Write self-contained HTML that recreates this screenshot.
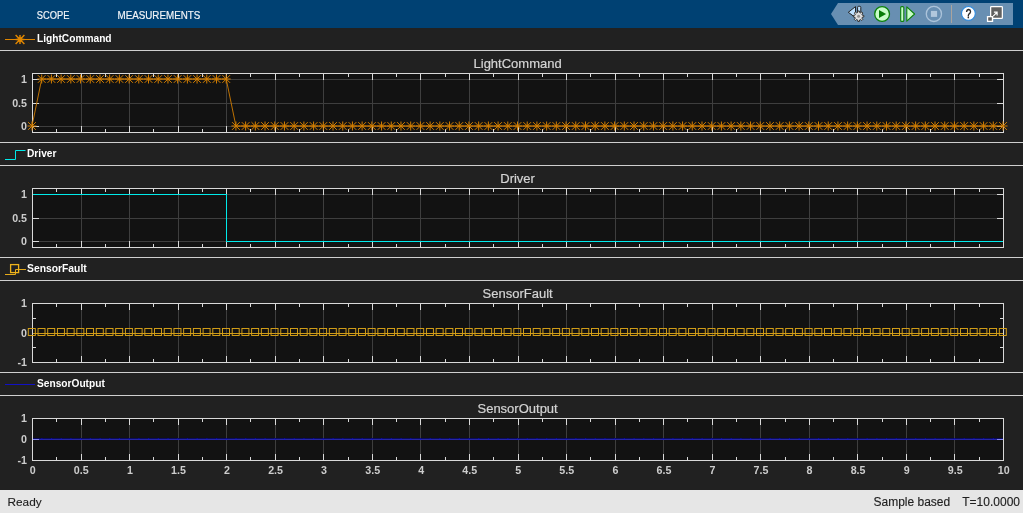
<!DOCTYPE html>
<html><head><meta charset="utf-8"><title>Scope</title>
<style>
html,body{margin:0;padding:0;background:#212121;overflow:hidden}
body{width:1023px;height:513px;position:relative;font-family:"Liberation Sans",sans-serif}
svg{position:absolute;left:0;top:0;display:block;will-change:transform}
text{font-family:"Liberation Sans",sans-serif}
.tk{font-size:10.7px;font-weight:bold;fill:#cdcdcd;stroke:#cdcdcd;stroke-width:0px}
.tt{font-size:13px;fill:#d4d4d4;stroke:#d4d4d4;stroke-width:0.2px}
.lg{font-size:10.18px;font-weight:bold;fill:#fff}
.tab{font-size:11.6px;fill:#f2f5f8;stroke:#f2f5f8;stroke-width:0.2px}
.st{font-size:12px;fill:#202020;stroke:#202020;stroke-width:0.12px}
</style></head><body>
<svg width="1023" height="513" viewBox="0 0 1023 513">

<rect x="0" y="0" width="1023" height="513" fill="#212121"/>
<rect x="0" y="0" width="1023" height="28" fill="#004173"/>
<rect x="0" y="490" width="1023" height="23" fill="#e6e6e6"/>
<rect x="0" y="50" width="1023" height="1" fill="#cfcfcf"/>
<rect x="0" y="142" width="1023" height="1" fill="#cfcfcf"/>
<rect x="0" y="165" width="1023" height="1" fill="#cfcfcf"/>
<rect x="0" y="257" width="1023" height="1" fill="#cfcfcf"/>
<rect x="0" y="280" width="1023" height="1" fill="#cfcfcf"/>
<rect x="0" y="372" width="1023" height="1" fill="#cfcfcf"/>
<rect x="0" y="395" width="1023" height="1" fill="#cfcfcf"/>
<rect x="32" y="73" width="972" height="60" fill="#121212"/>
<rect x="33.00" y="79.00" width="970.00" height="1.00" fill="#3e3e3e"/>
<rect x="33.00" y="103.00" width="970.00" height="1.00" fill="#3e3e3e"/>
<rect x="33.00" y="126.00" width="970.00" height="1.00" fill="#3e3e3e"/>
<rect x="81.00" y="74.00" width="1.00" height="58.00" fill="#3e3e3e"/>
<rect x="129.00" y="74.00" width="1.00" height="58.00" fill="#3e3e3e"/>
<rect x="178.00" y="74.00" width="1.00" height="58.00" fill="#3e3e3e"/>
<rect x="226.00" y="74.00" width="1.00" height="58.00" fill="#3e3e3e"/>
<rect x="275.00" y="74.00" width="1.00" height="58.00" fill="#3e3e3e"/>
<rect x="323.00" y="74.00" width="1.00" height="58.00" fill="#3e3e3e"/>
<rect x="372.00" y="74.00" width="1.00" height="58.00" fill="#3e3e3e"/>
<rect x="420.00" y="74.00" width="1.00" height="58.00" fill="#3e3e3e"/>
<rect x="469.00" y="74.00" width="1.00" height="58.00" fill="#3e3e3e"/>
<rect x="518.00" y="74.00" width="1.00" height="58.00" fill="#3e3e3e"/>
<rect x="566.00" y="74.00" width="1.00" height="58.00" fill="#3e3e3e"/>
<rect x="615.00" y="74.00" width="1.00" height="58.00" fill="#3e3e3e"/>
<rect x="663.00" y="74.00" width="1.00" height="58.00" fill="#3e3e3e"/>
<rect x="712.00" y="74.00" width="1.00" height="58.00" fill="#3e3e3e"/>
<rect x="760.00" y="74.00" width="1.00" height="58.00" fill="#3e3e3e"/>
<rect x="809.00" y="74.00" width="1.00" height="58.00" fill="#3e3e3e"/>
<rect x="857.00" y="74.00" width="1.00" height="58.00" fill="#3e3e3e"/>
<rect x="906.00" y="74.00" width="1.00" height="58.00" fill="#3e3e3e"/>
<rect x="954.00" y="74.00" width="1.00" height="58.00" fill="#3e3e3e"/>
<rect x="81.00" y="74.00" width="1.00" height="6.00" fill="#d9d9d9"/>
<rect x="81.00" y="126.00" width="1.00" height="6.00" fill="#d9d9d9"/>
<rect x="129.00" y="74.00" width="1.00" height="6.00" fill="#d9d9d9"/>
<rect x="129.00" y="126.00" width="1.00" height="6.00" fill="#d9d9d9"/>
<rect x="178.00" y="74.00" width="1.00" height="6.00" fill="#d9d9d9"/>
<rect x="178.00" y="126.00" width="1.00" height="6.00" fill="#d9d9d9"/>
<rect x="226.00" y="74.00" width="1.00" height="6.00" fill="#d9d9d9"/>
<rect x="226.00" y="126.00" width="1.00" height="6.00" fill="#d9d9d9"/>
<rect x="275.00" y="74.00" width="1.00" height="6.00" fill="#d9d9d9"/>
<rect x="275.00" y="126.00" width="1.00" height="6.00" fill="#d9d9d9"/>
<rect x="323.00" y="74.00" width="1.00" height="6.00" fill="#d9d9d9"/>
<rect x="323.00" y="126.00" width="1.00" height="6.00" fill="#d9d9d9"/>
<rect x="372.00" y="74.00" width="1.00" height="6.00" fill="#d9d9d9"/>
<rect x="372.00" y="126.00" width="1.00" height="6.00" fill="#d9d9d9"/>
<rect x="420.00" y="74.00" width="1.00" height="6.00" fill="#d9d9d9"/>
<rect x="420.00" y="126.00" width="1.00" height="6.00" fill="#d9d9d9"/>
<rect x="469.00" y="74.00" width="1.00" height="6.00" fill="#d9d9d9"/>
<rect x="469.00" y="126.00" width="1.00" height="6.00" fill="#d9d9d9"/>
<rect x="518.00" y="74.00" width="1.00" height="6.00" fill="#d9d9d9"/>
<rect x="518.00" y="126.00" width="1.00" height="6.00" fill="#d9d9d9"/>
<rect x="566.00" y="74.00" width="1.00" height="6.00" fill="#d9d9d9"/>
<rect x="566.00" y="126.00" width="1.00" height="6.00" fill="#d9d9d9"/>
<rect x="615.00" y="74.00" width="1.00" height="6.00" fill="#d9d9d9"/>
<rect x="615.00" y="126.00" width="1.00" height="6.00" fill="#d9d9d9"/>
<rect x="663.00" y="74.00" width="1.00" height="6.00" fill="#d9d9d9"/>
<rect x="663.00" y="126.00" width="1.00" height="6.00" fill="#d9d9d9"/>
<rect x="712.00" y="74.00" width="1.00" height="6.00" fill="#d9d9d9"/>
<rect x="712.00" y="126.00" width="1.00" height="6.00" fill="#d9d9d9"/>
<rect x="760.00" y="74.00" width="1.00" height="6.00" fill="#d9d9d9"/>
<rect x="760.00" y="126.00" width="1.00" height="6.00" fill="#d9d9d9"/>
<rect x="809.00" y="74.00" width="1.00" height="6.00" fill="#d9d9d9"/>
<rect x="809.00" y="126.00" width="1.00" height="6.00" fill="#d9d9d9"/>
<rect x="857.00" y="74.00" width="1.00" height="6.00" fill="#d9d9d9"/>
<rect x="857.00" y="126.00" width="1.00" height="6.00" fill="#d9d9d9"/>
<rect x="906.00" y="74.00" width="1.00" height="6.00" fill="#d9d9d9"/>
<rect x="906.00" y="126.00" width="1.00" height="6.00" fill="#d9d9d9"/>
<rect x="954.00" y="74.00" width="1.00" height="6.00" fill="#d9d9d9"/>
<rect x="954.00" y="126.00" width="1.00" height="6.00" fill="#d9d9d9"/>
<rect x="56.00" y="74.00" width="1.00" height="3.00" fill="#d9d9d9"/>
<rect x="56.00" y="129.00" width="1.00" height="3.00" fill="#d9d9d9"/>
<rect x="105.00" y="74.00" width="1.00" height="3.00" fill="#d9d9d9"/>
<rect x="105.00" y="129.00" width="1.00" height="3.00" fill="#d9d9d9"/>
<rect x="153.00" y="74.00" width="1.00" height="3.00" fill="#d9d9d9"/>
<rect x="153.00" y="129.00" width="1.00" height="3.00" fill="#d9d9d9"/>
<rect x="202.00" y="74.00" width="1.00" height="3.00" fill="#d9d9d9"/>
<rect x="202.00" y="129.00" width="1.00" height="3.00" fill="#d9d9d9"/>
<rect x="250.00" y="74.00" width="1.00" height="3.00" fill="#d9d9d9"/>
<rect x="250.00" y="129.00" width="1.00" height="3.00" fill="#d9d9d9"/>
<rect x="299.00" y="74.00" width="1.00" height="3.00" fill="#d9d9d9"/>
<rect x="299.00" y="129.00" width="1.00" height="3.00" fill="#d9d9d9"/>
<rect x="348.00" y="74.00" width="1.00" height="3.00" fill="#d9d9d9"/>
<rect x="348.00" y="129.00" width="1.00" height="3.00" fill="#d9d9d9"/>
<rect x="396.00" y="74.00" width="1.00" height="3.00" fill="#d9d9d9"/>
<rect x="396.00" y="129.00" width="1.00" height="3.00" fill="#d9d9d9"/>
<rect x="445.00" y="74.00" width="1.00" height="3.00" fill="#d9d9d9"/>
<rect x="445.00" y="129.00" width="1.00" height="3.00" fill="#d9d9d9"/>
<rect x="493.00" y="74.00" width="1.00" height="3.00" fill="#d9d9d9"/>
<rect x="493.00" y="129.00" width="1.00" height="3.00" fill="#d9d9d9"/>
<rect x="542.00" y="74.00" width="1.00" height="3.00" fill="#d9d9d9"/>
<rect x="542.00" y="129.00" width="1.00" height="3.00" fill="#d9d9d9"/>
<rect x="590.00" y="74.00" width="1.00" height="3.00" fill="#d9d9d9"/>
<rect x="590.00" y="129.00" width="1.00" height="3.00" fill="#d9d9d9"/>
<rect x="639.00" y="74.00" width="1.00" height="3.00" fill="#d9d9d9"/>
<rect x="639.00" y="129.00" width="1.00" height="3.00" fill="#d9d9d9"/>
<rect x="687.00" y="74.00" width="1.00" height="3.00" fill="#d9d9d9"/>
<rect x="687.00" y="129.00" width="1.00" height="3.00" fill="#d9d9d9"/>
<rect x="736.00" y="74.00" width="1.00" height="3.00" fill="#d9d9d9"/>
<rect x="736.00" y="129.00" width="1.00" height="3.00" fill="#d9d9d9"/>
<rect x="785.00" y="74.00" width="1.00" height="3.00" fill="#d9d9d9"/>
<rect x="785.00" y="129.00" width="1.00" height="3.00" fill="#d9d9d9"/>
<rect x="833.00" y="74.00" width="1.00" height="3.00" fill="#d9d9d9"/>
<rect x="833.00" y="129.00" width="1.00" height="3.00" fill="#d9d9d9"/>
<rect x="882.00" y="74.00" width="1.00" height="3.00" fill="#d9d9d9"/>
<rect x="882.00" y="129.00" width="1.00" height="3.00" fill="#d9d9d9"/>
<rect x="930.00" y="74.00" width="1.00" height="3.00" fill="#d9d9d9"/>
<rect x="930.00" y="129.00" width="1.00" height="3.00" fill="#d9d9d9"/>
<rect x="979.00" y="74.00" width="1.00" height="3.00" fill="#d9d9d9"/>
<rect x="979.00" y="129.00" width="1.00" height="3.00" fill="#d9d9d9"/>
<rect x="33.00" y="79.00" width="6.00" height="1.00" fill="#d9d9d9"/>
<rect x="997.00" y="79.00" width="6.00" height="1.00" fill="#d9d9d9"/>
<rect x="33.00" y="103.00" width="6.00" height="1.00" fill="#d9d9d9"/>
<rect x="997.00" y="103.00" width="6.00" height="1.00" fill="#d9d9d9"/>
<rect x="33.00" y="126.00" width="6.00" height="1.00" fill="#d9d9d9"/>
<rect x="997.00" y="126.00" width="6.00" height="1.00" fill="#d9d9d9"/>
<rect x="32.00" y="73.00" width="972.00" height="1.00" fill="#d9d9d9"/>
<rect x="32.00" y="132.00" width="972.00" height="1.00" fill="#d9d9d9"/>
<rect x="32.00" y="73.00" width="1.00" height="60.00" fill="#d9d9d9"/>
<rect x="1003.00" y="73.00" width="1.00" height="60.00" fill="#d9d9d9"/>
<polyline points="32.00,126.00 41.71,79.00 51.42,79.00 61.13,79.00 70.84,79.00 80.55,79.00 90.26,79.00 99.97,79.00 109.68,79.00 119.39,79.00 129.10,79.00 138.81,79.00 148.52,79.00 158.23,79.00 167.94,79.00 177.65,79.00 187.36,79.00 197.07,79.00 206.78,79.00 216.49,79.00 226.20,79.00 235.91,126.00 245.62,126.00 255.33,126.00 265.04,126.00 274.75,126.00 284.46,126.00 294.17,126.00 303.88,126.00 313.59,126.00 323.30,126.00 333.01,126.00 342.72,126.00 352.43,126.00 362.14,126.00 371.85,126.00 381.56,126.00 391.27,126.00 400.98,126.00 410.69,126.00 420.40,126.00 430.11,126.00 439.82,126.00 449.53,126.00 459.24,126.00 468.95,126.00 478.66,126.00 488.37,126.00 498.08,126.00 507.79,126.00 517.50,126.00 527.21,126.00 536.92,126.00 546.63,126.00 556.34,126.00 566.05,126.00 575.76,126.00 585.47,126.00 595.18,126.00 604.89,126.00 614.60,126.00 624.31,126.00 634.02,126.00 643.73,126.00 653.44,126.00 663.15,126.00 672.86,126.00 682.57,126.00 692.28,126.00 701.99,126.00 711.70,126.00 721.41,126.00 731.12,126.00 740.83,126.00 750.54,126.00 760.25,126.00 769.96,126.00 779.67,126.00 789.38,126.00 799.09,126.00 808.80,126.00 818.51,126.00 828.22,126.00 837.93,126.00 847.64,126.00 857.35,126.00 867.06,126.00 876.77,126.00 886.48,126.00 896.19,126.00 905.90,126.00 915.61,126.00 925.32,126.00 935.03,126.00 944.74,126.00 954.45,126.00 964.16,126.00 973.87,126.00 983.58,126.00 993.29,126.00 1003.00,126.00" fill="none" stroke="#d07c00" stroke-width="0.9"/>
<path d="M27.50 126.00H36.50M32.00 121.50V130.50M28.15 122.15L35.85 129.85M28.15 129.85L35.85 122.15" stroke="#d47f00" stroke-width="1.00" fill="none"/>
<path d="M37.21 79.00H46.21M41.71 74.50V83.50M37.86 75.15L45.56 82.85M37.86 82.85L45.56 75.15" stroke="#d47f00" stroke-width="1.00" fill="none"/>
<path d="M46.92 79.00H55.92M51.42 74.50V83.50M47.57 75.15L55.27 82.85M47.57 82.85L55.27 75.15" stroke="#d47f00" stroke-width="1.00" fill="none"/>
<path d="M56.63 79.00H65.63M61.13 74.50V83.50M57.28 75.15L64.98 82.85M57.28 82.85L64.98 75.15" stroke="#d47f00" stroke-width="1.00" fill="none"/>
<path d="M66.34 79.00H75.34M70.84 74.50V83.50M66.99 75.15L74.69 82.85M66.99 82.85L74.69 75.15" stroke="#d47f00" stroke-width="1.00" fill="none"/>
<path d="M76.05 79.00H85.05M80.55 74.50V83.50M76.70 75.15L84.40 82.85M76.70 82.85L84.40 75.15" stroke="#d47f00" stroke-width="1.00" fill="none"/>
<path d="M85.76 79.00H94.76M90.26 74.50V83.50M86.41 75.15L94.11 82.85M86.41 82.85L94.11 75.15" stroke="#d47f00" stroke-width="1.00" fill="none"/>
<path d="M95.47 79.00H104.47M99.97 74.50V83.50M96.12 75.15L103.82 82.85M96.12 82.85L103.82 75.15" stroke="#d47f00" stroke-width="1.00" fill="none"/>
<path d="M105.18 79.00H114.18M109.68 74.50V83.50M105.83 75.15L113.53 82.85M105.83 82.85L113.53 75.15" stroke="#d47f00" stroke-width="1.00" fill="none"/>
<path d="M114.89 79.00H123.89M119.39 74.50V83.50M115.54 75.15L123.24 82.85M115.54 82.85L123.24 75.15" stroke="#d47f00" stroke-width="1.00" fill="none"/>
<path d="M124.60 79.00H133.60M129.10 74.50V83.50M125.25 75.15L132.95 82.85M125.25 82.85L132.95 75.15" stroke="#d47f00" stroke-width="1.00" fill="none"/>
<path d="M134.31 79.00H143.31M138.81 74.50V83.50M134.96 75.15L142.66 82.85M134.96 82.85L142.66 75.15" stroke="#d47f00" stroke-width="1.00" fill="none"/>
<path d="M144.02 79.00H153.02M148.52 74.50V83.50M144.67 75.15L152.37 82.85M144.67 82.85L152.37 75.15" stroke="#d47f00" stroke-width="1.00" fill="none"/>
<path d="M153.73 79.00H162.73M158.23 74.50V83.50M154.38 75.15L162.08 82.85M154.38 82.85L162.08 75.15" stroke="#d47f00" stroke-width="1.00" fill="none"/>
<path d="M163.44 79.00H172.44M167.94 74.50V83.50M164.09 75.15L171.79 82.85M164.09 82.85L171.79 75.15" stroke="#d47f00" stroke-width="1.00" fill="none"/>
<path d="M173.15 79.00H182.15M177.65 74.50V83.50M173.80 75.15L181.50 82.85M173.80 82.85L181.50 75.15" stroke="#d47f00" stroke-width="1.00" fill="none"/>
<path d="M182.86 79.00H191.86M187.36 74.50V83.50M183.51 75.15L191.21 82.85M183.51 82.85L191.21 75.15" stroke="#d47f00" stroke-width="1.00" fill="none"/>
<path d="M192.57 79.00H201.57M197.07 74.50V83.50M193.22 75.15L200.92 82.85M193.22 82.85L200.92 75.15" stroke="#d47f00" stroke-width="1.00" fill="none"/>
<path d="M202.28 79.00H211.28M206.78 74.50V83.50M202.93 75.15L210.63 82.85M202.93 82.85L210.63 75.15" stroke="#d47f00" stroke-width="1.00" fill="none"/>
<path d="M211.99 79.00H220.99M216.49 74.50V83.50M212.64 75.15L220.34 82.85M212.64 82.85L220.34 75.15" stroke="#d47f00" stroke-width="1.00" fill="none"/>
<path d="M221.70 79.00H230.70M226.20 74.50V83.50M222.35 75.15L230.05 82.85M222.35 82.85L230.05 75.15" stroke="#d47f00" stroke-width="1.00" fill="none"/>
<path d="M231.41 126.00H240.41M235.91 121.50V130.50M232.06 122.15L239.76 129.85M232.06 129.85L239.76 122.15" stroke="#d47f00" stroke-width="1.00" fill="none"/>
<path d="M241.12 126.00H250.12M245.62 121.50V130.50M241.77 122.15L249.47 129.85M241.77 129.85L249.47 122.15" stroke="#d47f00" stroke-width="1.00" fill="none"/>
<path d="M250.83 126.00H259.83M255.33 121.50V130.50M251.48 122.15L259.18 129.85M251.48 129.85L259.18 122.15" stroke="#d47f00" stroke-width="1.00" fill="none"/>
<path d="M260.54 126.00H269.54M265.04 121.50V130.50M261.19 122.15L268.89 129.85M261.19 129.85L268.89 122.15" stroke="#d47f00" stroke-width="1.00" fill="none"/>
<path d="M270.25 126.00H279.25M274.75 121.50V130.50M270.90 122.15L278.60 129.85M270.90 129.85L278.60 122.15" stroke="#d47f00" stroke-width="1.00" fill="none"/>
<path d="M279.96 126.00H288.96M284.46 121.50V130.50M280.61 122.15L288.31 129.85M280.61 129.85L288.31 122.15" stroke="#d47f00" stroke-width="1.00" fill="none"/>
<path d="M289.67 126.00H298.67M294.17 121.50V130.50M290.32 122.15L298.02 129.85M290.32 129.85L298.02 122.15" stroke="#d47f00" stroke-width="1.00" fill="none"/>
<path d="M299.38 126.00H308.38M303.88 121.50V130.50M300.03 122.15L307.73 129.85M300.03 129.85L307.73 122.15" stroke="#d47f00" stroke-width="1.00" fill="none"/>
<path d="M309.09 126.00H318.09M313.59 121.50V130.50M309.74 122.15L317.44 129.85M309.74 129.85L317.44 122.15" stroke="#d47f00" stroke-width="1.00" fill="none"/>
<path d="M318.80 126.00H327.80M323.30 121.50V130.50M319.45 122.15L327.15 129.85M319.45 129.85L327.15 122.15" stroke="#d47f00" stroke-width="1.00" fill="none"/>
<path d="M328.51 126.00H337.51M333.01 121.50V130.50M329.16 122.15L336.86 129.85M329.16 129.85L336.86 122.15" stroke="#d47f00" stroke-width="1.00" fill="none"/>
<path d="M338.22 126.00H347.22M342.72 121.50V130.50M338.87 122.15L346.57 129.85M338.87 129.85L346.57 122.15" stroke="#d47f00" stroke-width="1.00" fill="none"/>
<path d="M347.93 126.00H356.93M352.43 121.50V130.50M348.58 122.15L356.28 129.85M348.58 129.85L356.28 122.15" stroke="#d47f00" stroke-width="1.00" fill="none"/>
<path d="M357.64 126.00H366.64M362.14 121.50V130.50M358.29 122.15L365.99 129.85M358.29 129.85L365.99 122.15" stroke="#d47f00" stroke-width="1.00" fill="none"/>
<path d="M367.35 126.00H376.35M371.85 121.50V130.50M368.00 122.15L375.70 129.85M368.00 129.85L375.70 122.15" stroke="#d47f00" stroke-width="1.00" fill="none"/>
<path d="M377.06 126.00H386.06M381.56 121.50V130.50M377.71 122.15L385.41 129.85M377.71 129.85L385.41 122.15" stroke="#d47f00" stroke-width="1.00" fill="none"/>
<path d="M386.77 126.00H395.77M391.27 121.50V130.50M387.42 122.15L395.12 129.85M387.42 129.85L395.12 122.15" stroke="#d47f00" stroke-width="1.00" fill="none"/>
<path d="M396.48 126.00H405.48M400.98 121.50V130.50M397.13 122.15L404.83 129.85M397.13 129.85L404.83 122.15" stroke="#d47f00" stroke-width="1.00" fill="none"/>
<path d="M406.19 126.00H415.19M410.69 121.50V130.50M406.84 122.15L414.54 129.85M406.84 129.85L414.54 122.15" stroke="#d47f00" stroke-width="1.00" fill="none"/>
<path d="M415.90 126.00H424.90M420.40 121.50V130.50M416.55 122.15L424.25 129.85M416.55 129.85L424.25 122.15" stroke="#d47f00" stroke-width="1.00" fill="none"/>
<path d="M425.61 126.00H434.61M430.11 121.50V130.50M426.26 122.15L433.96 129.85M426.26 129.85L433.96 122.15" stroke="#d47f00" stroke-width="1.00" fill="none"/>
<path d="M435.32 126.00H444.32M439.82 121.50V130.50M435.97 122.15L443.67 129.85M435.97 129.85L443.67 122.15" stroke="#d47f00" stroke-width="1.00" fill="none"/>
<path d="M445.03 126.00H454.03M449.53 121.50V130.50M445.68 122.15L453.38 129.85M445.68 129.85L453.38 122.15" stroke="#d47f00" stroke-width="1.00" fill="none"/>
<path d="M454.74 126.00H463.74M459.24 121.50V130.50M455.39 122.15L463.09 129.85M455.39 129.85L463.09 122.15" stroke="#d47f00" stroke-width="1.00" fill="none"/>
<path d="M464.45 126.00H473.45M468.95 121.50V130.50M465.10 122.15L472.80 129.85M465.10 129.85L472.80 122.15" stroke="#d47f00" stroke-width="1.00" fill="none"/>
<path d="M474.16 126.00H483.16M478.66 121.50V130.50M474.81 122.15L482.51 129.85M474.81 129.85L482.51 122.15" stroke="#d47f00" stroke-width="1.00" fill="none"/>
<path d="M483.87 126.00H492.87M488.37 121.50V130.50M484.52 122.15L492.22 129.85M484.52 129.85L492.22 122.15" stroke="#d47f00" stroke-width="1.00" fill="none"/>
<path d="M493.58 126.00H502.58M498.08 121.50V130.50M494.23 122.15L501.93 129.85M494.23 129.85L501.93 122.15" stroke="#d47f00" stroke-width="1.00" fill="none"/>
<path d="M503.29 126.00H512.29M507.79 121.50V130.50M503.94 122.15L511.64 129.85M503.94 129.85L511.64 122.15" stroke="#d47f00" stroke-width="1.00" fill="none"/>
<path d="M513.00 126.00H522.00M517.50 121.50V130.50M513.65 122.15L521.35 129.85M513.65 129.85L521.35 122.15" stroke="#d47f00" stroke-width="1.00" fill="none"/>
<path d="M522.71 126.00H531.71M527.21 121.50V130.50M523.36 122.15L531.06 129.85M523.36 129.85L531.06 122.15" stroke="#d47f00" stroke-width="1.00" fill="none"/>
<path d="M532.42 126.00H541.42M536.92 121.50V130.50M533.07 122.15L540.77 129.85M533.07 129.85L540.77 122.15" stroke="#d47f00" stroke-width="1.00" fill="none"/>
<path d="M542.13 126.00H551.13M546.63 121.50V130.50M542.78 122.15L550.48 129.85M542.78 129.85L550.48 122.15" stroke="#d47f00" stroke-width="1.00" fill="none"/>
<path d="M551.84 126.00H560.84M556.34 121.50V130.50M552.49 122.15L560.19 129.85M552.49 129.85L560.19 122.15" stroke="#d47f00" stroke-width="1.00" fill="none"/>
<path d="M561.55 126.00H570.55M566.05 121.50V130.50M562.20 122.15L569.90 129.85M562.20 129.85L569.90 122.15" stroke="#d47f00" stroke-width="1.00" fill="none"/>
<path d="M571.26 126.00H580.26M575.76 121.50V130.50M571.91 122.15L579.61 129.85M571.91 129.85L579.61 122.15" stroke="#d47f00" stroke-width="1.00" fill="none"/>
<path d="M580.97 126.00H589.97M585.47 121.50V130.50M581.62 122.15L589.32 129.85M581.62 129.85L589.32 122.15" stroke="#d47f00" stroke-width="1.00" fill="none"/>
<path d="M590.68 126.00H599.68M595.18 121.50V130.50M591.33 122.15L599.03 129.85M591.33 129.85L599.03 122.15" stroke="#d47f00" stroke-width="1.00" fill="none"/>
<path d="M600.39 126.00H609.39M604.89 121.50V130.50M601.04 122.15L608.74 129.85M601.04 129.85L608.74 122.15" stroke="#d47f00" stroke-width="1.00" fill="none"/>
<path d="M610.10 126.00H619.10M614.60 121.50V130.50M610.75 122.15L618.45 129.85M610.75 129.85L618.45 122.15" stroke="#d47f00" stroke-width="1.00" fill="none"/>
<path d="M619.81 126.00H628.81M624.31 121.50V130.50M620.46 122.15L628.16 129.85M620.46 129.85L628.16 122.15" stroke="#d47f00" stroke-width="1.00" fill="none"/>
<path d="M629.52 126.00H638.52M634.02 121.50V130.50M630.17 122.15L637.87 129.85M630.17 129.85L637.87 122.15" stroke="#d47f00" stroke-width="1.00" fill="none"/>
<path d="M639.23 126.00H648.23M643.73 121.50V130.50M639.88 122.15L647.58 129.85M639.88 129.85L647.58 122.15" stroke="#d47f00" stroke-width="1.00" fill="none"/>
<path d="M648.94 126.00H657.94M653.44 121.50V130.50M649.59 122.15L657.29 129.85M649.59 129.85L657.29 122.15" stroke="#d47f00" stroke-width="1.00" fill="none"/>
<path d="M658.65 126.00H667.65M663.15 121.50V130.50M659.30 122.15L667.00 129.85M659.30 129.85L667.00 122.15" stroke="#d47f00" stroke-width="1.00" fill="none"/>
<path d="M668.36 126.00H677.36M672.86 121.50V130.50M669.01 122.15L676.71 129.85M669.01 129.85L676.71 122.15" stroke="#d47f00" stroke-width="1.00" fill="none"/>
<path d="M678.07 126.00H687.07M682.57 121.50V130.50M678.72 122.15L686.42 129.85M678.72 129.85L686.42 122.15" stroke="#d47f00" stroke-width="1.00" fill="none"/>
<path d="M687.78 126.00H696.78M692.28 121.50V130.50M688.43 122.15L696.13 129.85M688.43 129.85L696.13 122.15" stroke="#d47f00" stroke-width="1.00" fill="none"/>
<path d="M697.49 126.00H706.49M701.99 121.50V130.50M698.14 122.15L705.84 129.85M698.14 129.85L705.84 122.15" stroke="#d47f00" stroke-width="1.00" fill="none"/>
<path d="M707.20 126.00H716.20M711.70 121.50V130.50M707.85 122.15L715.55 129.85M707.85 129.85L715.55 122.15" stroke="#d47f00" stroke-width="1.00" fill="none"/>
<path d="M716.91 126.00H725.91M721.41 121.50V130.50M717.56 122.15L725.26 129.85M717.56 129.85L725.26 122.15" stroke="#d47f00" stroke-width="1.00" fill="none"/>
<path d="M726.62 126.00H735.62M731.12 121.50V130.50M727.27 122.15L734.97 129.85M727.27 129.85L734.97 122.15" stroke="#d47f00" stroke-width="1.00" fill="none"/>
<path d="M736.33 126.00H745.33M740.83 121.50V130.50M736.98 122.15L744.68 129.85M736.98 129.85L744.68 122.15" stroke="#d47f00" stroke-width="1.00" fill="none"/>
<path d="M746.04 126.00H755.04M750.54 121.50V130.50M746.69 122.15L754.39 129.85M746.69 129.85L754.39 122.15" stroke="#d47f00" stroke-width="1.00" fill="none"/>
<path d="M755.75 126.00H764.75M760.25 121.50V130.50M756.40 122.15L764.10 129.85M756.40 129.85L764.10 122.15" stroke="#d47f00" stroke-width="1.00" fill="none"/>
<path d="M765.46 126.00H774.46M769.96 121.50V130.50M766.11 122.15L773.81 129.85M766.11 129.85L773.81 122.15" stroke="#d47f00" stroke-width="1.00" fill="none"/>
<path d="M775.17 126.00H784.17M779.67 121.50V130.50M775.82 122.15L783.52 129.85M775.82 129.85L783.52 122.15" stroke="#d47f00" stroke-width="1.00" fill="none"/>
<path d="M784.88 126.00H793.88M789.38 121.50V130.50M785.53 122.15L793.23 129.85M785.53 129.85L793.23 122.15" stroke="#d47f00" stroke-width="1.00" fill="none"/>
<path d="M794.59 126.00H803.59M799.09 121.50V130.50M795.24 122.15L802.94 129.85M795.24 129.85L802.94 122.15" stroke="#d47f00" stroke-width="1.00" fill="none"/>
<path d="M804.30 126.00H813.30M808.80 121.50V130.50M804.95 122.15L812.65 129.85M804.95 129.85L812.65 122.15" stroke="#d47f00" stroke-width="1.00" fill="none"/>
<path d="M814.01 126.00H823.01M818.51 121.50V130.50M814.66 122.15L822.36 129.85M814.66 129.85L822.36 122.15" stroke="#d47f00" stroke-width="1.00" fill="none"/>
<path d="M823.72 126.00H832.72M828.22 121.50V130.50M824.37 122.15L832.07 129.85M824.37 129.85L832.07 122.15" stroke="#d47f00" stroke-width="1.00" fill="none"/>
<path d="M833.43 126.00H842.43M837.93 121.50V130.50M834.08 122.15L841.78 129.85M834.08 129.85L841.78 122.15" stroke="#d47f00" stroke-width="1.00" fill="none"/>
<path d="M843.14 126.00H852.14M847.64 121.50V130.50M843.79 122.15L851.49 129.85M843.79 129.85L851.49 122.15" stroke="#d47f00" stroke-width="1.00" fill="none"/>
<path d="M852.85 126.00H861.85M857.35 121.50V130.50M853.50 122.15L861.20 129.85M853.50 129.85L861.20 122.15" stroke="#d47f00" stroke-width="1.00" fill="none"/>
<path d="M862.56 126.00H871.56M867.06 121.50V130.50M863.21 122.15L870.91 129.85M863.21 129.85L870.91 122.15" stroke="#d47f00" stroke-width="1.00" fill="none"/>
<path d="M872.27 126.00H881.27M876.77 121.50V130.50M872.92 122.15L880.62 129.85M872.92 129.85L880.62 122.15" stroke="#d47f00" stroke-width="1.00" fill="none"/>
<path d="M881.98 126.00H890.98M886.48 121.50V130.50M882.63 122.15L890.33 129.85M882.63 129.85L890.33 122.15" stroke="#d47f00" stroke-width="1.00" fill="none"/>
<path d="M891.69 126.00H900.69M896.19 121.50V130.50M892.34 122.15L900.04 129.85M892.34 129.85L900.04 122.15" stroke="#d47f00" stroke-width="1.00" fill="none"/>
<path d="M901.40 126.00H910.40M905.90 121.50V130.50M902.05 122.15L909.75 129.85M902.05 129.85L909.75 122.15" stroke="#d47f00" stroke-width="1.00" fill="none"/>
<path d="M911.11 126.00H920.11M915.61 121.50V130.50M911.76 122.15L919.46 129.85M911.76 129.85L919.46 122.15" stroke="#d47f00" stroke-width="1.00" fill="none"/>
<path d="M920.82 126.00H929.82M925.32 121.50V130.50M921.47 122.15L929.17 129.85M921.47 129.85L929.17 122.15" stroke="#d47f00" stroke-width="1.00" fill="none"/>
<path d="M930.53 126.00H939.53M935.03 121.50V130.50M931.18 122.15L938.88 129.85M931.18 129.85L938.88 122.15" stroke="#d47f00" stroke-width="1.00" fill="none"/>
<path d="M940.24 126.00H949.24M944.74 121.50V130.50M940.89 122.15L948.59 129.85M940.89 129.85L948.59 122.15" stroke="#d47f00" stroke-width="1.00" fill="none"/>
<path d="M949.95 126.00H958.95M954.45 121.50V130.50M950.60 122.15L958.30 129.85M950.60 129.85L958.30 122.15" stroke="#d47f00" stroke-width="1.00" fill="none"/>
<path d="M959.66 126.00H968.66M964.16 121.50V130.50M960.31 122.15L968.01 129.85M960.31 129.85L968.01 122.15" stroke="#d47f00" stroke-width="1.00" fill="none"/>
<path d="M969.37 126.00H978.37M973.87 121.50V130.50M970.02 122.15L977.72 129.85M970.02 129.85L977.72 122.15" stroke="#d47f00" stroke-width="1.00" fill="none"/>
<path d="M979.08 126.00H988.08M983.58 121.50V130.50M979.73 122.15L987.43 129.85M979.73 129.85L987.43 122.15" stroke="#d47f00" stroke-width="1.00" fill="none"/>
<path d="M988.79 126.00H997.79M993.29 121.50V130.50M989.44 122.15L997.14 129.85M989.44 129.85L997.14 122.15" stroke="#d47f00" stroke-width="1.00" fill="none"/>
<path d="M998.50 126.00H1007.50M1003.00 121.50V130.50M999.15 122.15L1006.85 129.85M999.15 129.85L1006.85 122.15" stroke="#d47f00" stroke-width="1.00" fill="none"/>
<text class="tk" x="27" y="83.2" text-anchor="end">1</text>
<text class="tk" x="27" y="107.2" text-anchor="end">0.5</text>
<text class="tk" x="27" y="130.2" text-anchor="end">0</text>
<text class="tt" x="517.6" y="67.8" text-anchor="middle">LightCommand</text>
<rect x="32" y="188" width="972" height="60" fill="#121212"/>
<rect x="33.00" y="194.00" width="970.00" height="1.00" fill="#3e3e3e"/>
<rect x="33.00" y="218.00" width="970.00" height="1.00" fill="#3e3e3e"/>
<rect x="33.00" y="241.00" width="970.00" height="1.00" fill="#3e3e3e"/>
<rect x="81.00" y="189.00" width="1.00" height="58.00" fill="#3e3e3e"/>
<rect x="129.00" y="189.00" width="1.00" height="58.00" fill="#3e3e3e"/>
<rect x="178.00" y="189.00" width="1.00" height="58.00" fill="#3e3e3e"/>
<rect x="226.00" y="189.00" width="1.00" height="58.00" fill="#3e3e3e"/>
<rect x="275.00" y="189.00" width="1.00" height="58.00" fill="#3e3e3e"/>
<rect x="323.00" y="189.00" width="1.00" height="58.00" fill="#3e3e3e"/>
<rect x="372.00" y="189.00" width="1.00" height="58.00" fill="#3e3e3e"/>
<rect x="420.00" y="189.00" width="1.00" height="58.00" fill="#3e3e3e"/>
<rect x="469.00" y="189.00" width="1.00" height="58.00" fill="#3e3e3e"/>
<rect x="518.00" y="189.00" width="1.00" height="58.00" fill="#3e3e3e"/>
<rect x="566.00" y="189.00" width="1.00" height="58.00" fill="#3e3e3e"/>
<rect x="615.00" y="189.00" width="1.00" height="58.00" fill="#3e3e3e"/>
<rect x="663.00" y="189.00" width="1.00" height="58.00" fill="#3e3e3e"/>
<rect x="712.00" y="189.00" width="1.00" height="58.00" fill="#3e3e3e"/>
<rect x="760.00" y="189.00" width="1.00" height="58.00" fill="#3e3e3e"/>
<rect x="809.00" y="189.00" width="1.00" height="58.00" fill="#3e3e3e"/>
<rect x="857.00" y="189.00" width="1.00" height="58.00" fill="#3e3e3e"/>
<rect x="906.00" y="189.00" width="1.00" height="58.00" fill="#3e3e3e"/>
<rect x="954.00" y="189.00" width="1.00" height="58.00" fill="#3e3e3e"/>
<rect x="81.00" y="189.00" width="1.00" height="6.00" fill="#d9d9d9"/>
<rect x="81.00" y="241.00" width="1.00" height="6.00" fill="#d9d9d9"/>
<rect x="129.00" y="189.00" width="1.00" height="6.00" fill="#d9d9d9"/>
<rect x="129.00" y="241.00" width="1.00" height="6.00" fill="#d9d9d9"/>
<rect x="178.00" y="189.00" width="1.00" height="6.00" fill="#d9d9d9"/>
<rect x="178.00" y="241.00" width="1.00" height="6.00" fill="#d9d9d9"/>
<rect x="226.00" y="189.00" width="1.00" height="6.00" fill="#d9d9d9"/>
<rect x="226.00" y="241.00" width="1.00" height="6.00" fill="#d9d9d9"/>
<rect x="275.00" y="189.00" width="1.00" height="6.00" fill="#d9d9d9"/>
<rect x="275.00" y="241.00" width="1.00" height="6.00" fill="#d9d9d9"/>
<rect x="323.00" y="189.00" width="1.00" height="6.00" fill="#d9d9d9"/>
<rect x="323.00" y="241.00" width="1.00" height="6.00" fill="#d9d9d9"/>
<rect x="372.00" y="189.00" width="1.00" height="6.00" fill="#d9d9d9"/>
<rect x="372.00" y="241.00" width="1.00" height="6.00" fill="#d9d9d9"/>
<rect x="420.00" y="189.00" width="1.00" height="6.00" fill="#d9d9d9"/>
<rect x="420.00" y="241.00" width="1.00" height="6.00" fill="#d9d9d9"/>
<rect x="469.00" y="189.00" width="1.00" height="6.00" fill="#d9d9d9"/>
<rect x="469.00" y="241.00" width="1.00" height="6.00" fill="#d9d9d9"/>
<rect x="518.00" y="189.00" width="1.00" height="6.00" fill="#d9d9d9"/>
<rect x="518.00" y="241.00" width="1.00" height="6.00" fill="#d9d9d9"/>
<rect x="566.00" y="189.00" width="1.00" height="6.00" fill="#d9d9d9"/>
<rect x="566.00" y="241.00" width="1.00" height="6.00" fill="#d9d9d9"/>
<rect x="615.00" y="189.00" width="1.00" height="6.00" fill="#d9d9d9"/>
<rect x="615.00" y="241.00" width="1.00" height="6.00" fill="#d9d9d9"/>
<rect x="663.00" y="189.00" width="1.00" height="6.00" fill="#d9d9d9"/>
<rect x="663.00" y="241.00" width="1.00" height="6.00" fill="#d9d9d9"/>
<rect x="712.00" y="189.00" width="1.00" height="6.00" fill="#d9d9d9"/>
<rect x="712.00" y="241.00" width="1.00" height="6.00" fill="#d9d9d9"/>
<rect x="760.00" y="189.00" width="1.00" height="6.00" fill="#d9d9d9"/>
<rect x="760.00" y="241.00" width="1.00" height="6.00" fill="#d9d9d9"/>
<rect x="809.00" y="189.00" width="1.00" height="6.00" fill="#d9d9d9"/>
<rect x="809.00" y="241.00" width="1.00" height="6.00" fill="#d9d9d9"/>
<rect x="857.00" y="189.00" width="1.00" height="6.00" fill="#d9d9d9"/>
<rect x="857.00" y="241.00" width="1.00" height="6.00" fill="#d9d9d9"/>
<rect x="906.00" y="189.00" width="1.00" height="6.00" fill="#d9d9d9"/>
<rect x="906.00" y="241.00" width="1.00" height="6.00" fill="#d9d9d9"/>
<rect x="954.00" y="189.00" width="1.00" height="6.00" fill="#d9d9d9"/>
<rect x="954.00" y="241.00" width="1.00" height="6.00" fill="#d9d9d9"/>
<rect x="56.00" y="189.00" width="1.00" height="3.00" fill="#d9d9d9"/>
<rect x="56.00" y="244.00" width="1.00" height="3.00" fill="#d9d9d9"/>
<rect x="105.00" y="189.00" width="1.00" height="3.00" fill="#d9d9d9"/>
<rect x="105.00" y="244.00" width="1.00" height="3.00" fill="#d9d9d9"/>
<rect x="153.00" y="189.00" width="1.00" height="3.00" fill="#d9d9d9"/>
<rect x="153.00" y="244.00" width="1.00" height="3.00" fill="#d9d9d9"/>
<rect x="202.00" y="189.00" width="1.00" height="3.00" fill="#d9d9d9"/>
<rect x="202.00" y="244.00" width="1.00" height="3.00" fill="#d9d9d9"/>
<rect x="250.00" y="189.00" width="1.00" height="3.00" fill="#d9d9d9"/>
<rect x="250.00" y="244.00" width="1.00" height="3.00" fill="#d9d9d9"/>
<rect x="299.00" y="189.00" width="1.00" height="3.00" fill="#d9d9d9"/>
<rect x="299.00" y="244.00" width="1.00" height="3.00" fill="#d9d9d9"/>
<rect x="348.00" y="189.00" width="1.00" height="3.00" fill="#d9d9d9"/>
<rect x="348.00" y="244.00" width="1.00" height="3.00" fill="#d9d9d9"/>
<rect x="396.00" y="189.00" width="1.00" height="3.00" fill="#d9d9d9"/>
<rect x="396.00" y="244.00" width="1.00" height="3.00" fill="#d9d9d9"/>
<rect x="445.00" y="189.00" width="1.00" height="3.00" fill="#d9d9d9"/>
<rect x="445.00" y="244.00" width="1.00" height="3.00" fill="#d9d9d9"/>
<rect x="493.00" y="189.00" width="1.00" height="3.00" fill="#d9d9d9"/>
<rect x="493.00" y="244.00" width="1.00" height="3.00" fill="#d9d9d9"/>
<rect x="542.00" y="189.00" width="1.00" height="3.00" fill="#d9d9d9"/>
<rect x="542.00" y="244.00" width="1.00" height="3.00" fill="#d9d9d9"/>
<rect x="590.00" y="189.00" width="1.00" height="3.00" fill="#d9d9d9"/>
<rect x="590.00" y="244.00" width="1.00" height="3.00" fill="#d9d9d9"/>
<rect x="639.00" y="189.00" width="1.00" height="3.00" fill="#d9d9d9"/>
<rect x="639.00" y="244.00" width="1.00" height="3.00" fill="#d9d9d9"/>
<rect x="687.00" y="189.00" width="1.00" height="3.00" fill="#d9d9d9"/>
<rect x="687.00" y="244.00" width="1.00" height="3.00" fill="#d9d9d9"/>
<rect x="736.00" y="189.00" width="1.00" height="3.00" fill="#d9d9d9"/>
<rect x="736.00" y="244.00" width="1.00" height="3.00" fill="#d9d9d9"/>
<rect x="785.00" y="189.00" width="1.00" height="3.00" fill="#d9d9d9"/>
<rect x="785.00" y="244.00" width="1.00" height="3.00" fill="#d9d9d9"/>
<rect x="833.00" y="189.00" width="1.00" height="3.00" fill="#d9d9d9"/>
<rect x="833.00" y="244.00" width="1.00" height="3.00" fill="#d9d9d9"/>
<rect x="882.00" y="189.00" width="1.00" height="3.00" fill="#d9d9d9"/>
<rect x="882.00" y="244.00" width="1.00" height="3.00" fill="#d9d9d9"/>
<rect x="930.00" y="189.00" width="1.00" height="3.00" fill="#d9d9d9"/>
<rect x="930.00" y="244.00" width="1.00" height="3.00" fill="#d9d9d9"/>
<rect x="979.00" y="189.00" width="1.00" height="3.00" fill="#d9d9d9"/>
<rect x="979.00" y="244.00" width="1.00" height="3.00" fill="#d9d9d9"/>
<rect x="33.00" y="194.00" width="6.00" height="1.00" fill="#d9d9d9"/>
<rect x="997.00" y="194.00" width="6.00" height="1.00" fill="#d9d9d9"/>
<rect x="33.00" y="218.00" width="6.00" height="1.00" fill="#d9d9d9"/>
<rect x="997.00" y="218.00" width="6.00" height="1.00" fill="#d9d9d9"/>
<rect x="33.00" y="241.00" width="6.00" height="1.00" fill="#d9d9d9"/>
<rect x="997.00" y="241.00" width="6.00" height="1.00" fill="#d9d9d9"/>
<rect x="32.00" y="188.00" width="972.00" height="1.00" fill="#d9d9d9"/>
<rect x="32.00" y="247.00" width="972.00" height="1.00" fill="#d9d9d9"/>
<rect x="32.00" y="188.00" width="1.00" height="60.00" fill="#d9d9d9"/>
<rect x="1003.00" y="188.00" width="1.00" height="60.00" fill="#d9d9d9"/>
<polyline points="33.00,194.50 226.50,194.50 226.50,241.50 1003.00,241.50" fill="none" stroke="#00eaea" stroke-width="1" shape-rendering="crispEdges"/>
<text class="tk" x="27" y="198.2" text-anchor="end">1</text>
<text class="tk" x="27" y="222.2" text-anchor="end">0.5</text>
<text class="tk" x="27" y="245.2" text-anchor="end">0</text>
<text class="tt" x="517.6" y="182.8" text-anchor="middle">Driver</text>
<rect x="32" y="303" width="972" height="60" fill="#121212"/>
<rect x="33.00" y="333.00" width="970.00" height="1.00" fill="#3e3e3e"/>
<rect x="81.00" y="304.00" width="1.00" height="58.00" fill="#3e3e3e"/>
<rect x="129.00" y="304.00" width="1.00" height="58.00" fill="#3e3e3e"/>
<rect x="178.00" y="304.00" width="1.00" height="58.00" fill="#3e3e3e"/>
<rect x="226.00" y="304.00" width="1.00" height="58.00" fill="#3e3e3e"/>
<rect x="275.00" y="304.00" width="1.00" height="58.00" fill="#3e3e3e"/>
<rect x="323.00" y="304.00" width="1.00" height="58.00" fill="#3e3e3e"/>
<rect x="372.00" y="304.00" width="1.00" height="58.00" fill="#3e3e3e"/>
<rect x="420.00" y="304.00" width="1.00" height="58.00" fill="#3e3e3e"/>
<rect x="469.00" y="304.00" width="1.00" height="58.00" fill="#3e3e3e"/>
<rect x="518.00" y="304.00" width="1.00" height="58.00" fill="#3e3e3e"/>
<rect x="566.00" y="304.00" width="1.00" height="58.00" fill="#3e3e3e"/>
<rect x="615.00" y="304.00" width="1.00" height="58.00" fill="#3e3e3e"/>
<rect x="663.00" y="304.00" width="1.00" height="58.00" fill="#3e3e3e"/>
<rect x="712.00" y="304.00" width="1.00" height="58.00" fill="#3e3e3e"/>
<rect x="760.00" y="304.00" width="1.00" height="58.00" fill="#3e3e3e"/>
<rect x="809.00" y="304.00" width="1.00" height="58.00" fill="#3e3e3e"/>
<rect x="857.00" y="304.00" width="1.00" height="58.00" fill="#3e3e3e"/>
<rect x="906.00" y="304.00" width="1.00" height="58.00" fill="#3e3e3e"/>
<rect x="954.00" y="304.00" width="1.00" height="58.00" fill="#3e3e3e"/>
<rect x="81.00" y="304.00" width="1.00" height="6.00" fill="#d9d9d9"/>
<rect x="81.00" y="356.00" width="1.00" height="6.00" fill="#d9d9d9"/>
<rect x="129.00" y="304.00" width="1.00" height="6.00" fill="#d9d9d9"/>
<rect x="129.00" y="356.00" width="1.00" height="6.00" fill="#d9d9d9"/>
<rect x="178.00" y="304.00" width="1.00" height="6.00" fill="#d9d9d9"/>
<rect x="178.00" y="356.00" width="1.00" height="6.00" fill="#d9d9d9"/>
<rect x="226.00" y="304.00" width="1.00" height="6.00" fill="#d9d9d9"/>
<rect x="226.00" y="356.00" width="1.00" height="6.00" fill="#d9d9d9"/>
<rect x="275.00" y="304.00" width="1.00" height="6.00" fill="#d9d9d9"/>
<rect x="275.00" y="356.00" width="1.00" height="6.00" fill="#d9d9d9"/>
<rect x="323.00" y="304.00" width="1.00" height="6.00" fill="#d9d9d9"/>
<rect x="323.00" y="356.00" width="1.00" height="6.00" fill="#d9d9d9"/>
<rect x="372.00" y="304.00" width="1.00" height="6.00" fill="#d9d9d9"/>
<rect x="372.00" y="356.00" width="1.00" height="6.00" fill="#d9d9d9"/>
<rect x="420.00" y="304.00" width="1.00" height="6.00" fill="#d9d9d9"/>
<rect x="420.00" y="356.00" width="1.00" height="6.00" fill="#d9d9d9"/>
<rect x="469.00" y="304.00" width="1.00" height="6.00" fill="#d9d9d9"/>
<rect x="469.00" y="356.00" width="1.00" height="6.00" fill="#d9d9d9"/>
<rect x="518.00" y="304.00" width="1.00" height="6.00" fill="#d9d9d9"/>
<rect x="518.00" y="356.00" width="1.00" height="6.00" fill="#d9d9d9"/>
<rect x="566.00" y="304.00" width="1.00" height="6.00" fill="#d9d9d9"/>
<rect x="566.00" y="356.00" width="1.00" height="6.00" fill="#d9d9d9"/>
<rect x="615.00" y="304.00" width="1.00" height="6.00" fill="#d9d9d9"/>
<rect x="615.00" y="356.00" width="1.00" height="6.00" fill="#d9d9d9"/>
<rect x="663.00" y="304.00" width="1.00" height="6.00" fill="#d9d9d9"/>
<rect x="663.00" y="356.00" width="1.00" height="6.00" fill="#d9d9d9"/>
<rect x="712.00" y="304.00" width="1.00" height="6.00" fill="#d9d9d9"/>
<rect x="712.00" y="356.00" width="1.00" height="6.00" fill="#d9d9d9"/>
<rect x="760.00" y="304.00" width="1.00" height="6.00" fill="#d9d9d9"/>
<rect x="760.00" y="356.00" width="1.00" height="6.00" fill="#d9d9d9"/>
<rect x="809.00" y="304.00" width="1.00" height="6.00" fill="#d9d9d9"/>
<rect x="809.00" y="356.00" width="1.00" height="6.00" fill="#d9d9d9"/>
<rect x="857.00" y="304.00" width="1.00" height="6.00" fill="#d9d9d9"/>
<rect x="857.00" y="356.00" width="1.00" height="6.00" fill="#d9d9d9"/>
<rect x="906.00" y="304.00" width="1.00" height="6.00" fill="#d9d9d9"/>
<rect x="906.00" y="356.00" width="1.00" height="6.00" fill="#d9d9d9"/>
<rect x="954.00" y="304.00" width="1.00" height="6.00" fill="#d9d9d9"/>
<rect x="954.00" y="356.00" width="1.00" height="6.00" fill="#d9d9d9"/>
<rect x="56.00" y="304.00" width="1.00" height="3.00" fill="#d9d9d9"/>
<rect x="56.00" y="359.00" width="1.00" height="3.00" fill="#d9d9d9"/>
<rect x="105.00" y="304.00" width="1.00" height="3.00" fill="#d9d9d9"/>
<rect x="105.00" y="359.00" width="1.00" height="3.00" fill="#d9d9d9"/>
<rect x="153.00" y="304.00" width="1.00" height="3.00" fill="#d9d9d9"/>
<rect x="153.00" y="359.00" width="1.00" height="3.00" fill="#d9d9d9"/>
<rect x="202.00" y="304.00" width="1.00" height="3.00" fill="#d9d9d9"/>
<rect x="202.00" y="359.00" width="1.00" height="3.00" fill="#d9d9d9"/>
<rect x="250.00" y="304.00" width="1.00" height="3.00" fill="#d9d9d9"/>
<rect x="250.00" y="359.00" width="1.00" height="3.00" fill="#d9d9d9"/>
<rect x="299.00" y="304.00" width="1.00" height="3.00" fill="#d9d9d9"/>
<rect x="299.00" y="359.00" width="1.00" height="3.00" fill="#d9d9d9"/>
<rect x="348.00" y="304.00" width="1.00" height="3.00" fill="#d9d9d9"/>
<rect x="348.00" y="359.00" width="1.00" height="3.00" fill="#d9d9d9"/>
<rect x="396.00" y="304.00" width="1.00" height="3.00" fill="#d9d9d9"/>
<rect x="396.00" y="359.00" width="1.00" height="3.00" fill="#d9d9d9"/>
<rect x="445.00" y="304.00" width="1.00" height="3.00" fill="#d9d9d9"/>
<rect x="445.00" y="359.00" width="1.00" height="3.00" fill="#d9d9d9"/>
<rect x="493.00" y="304.00" width="1.00" height="3.00" fill="#d9d9d9"/>
<rect x="493.00" y="359.00" width="1.00" height="3.00" fill="#d9d9d9"/>
<rect x="542.00" y="304.00" width="1.00" height="3.00" fill="#d9d9d9"/>
<rect x="542.00" y="359.00" width="1.00" height="3.00" fill="#d9d9d9"/>
<rect x="590.00" y="304.00" width="1.00" height="3.00" fill="#d9d9d9"/>
<rect x="590.00" y="359.00" width="1.00" height="3.00" fill="#d9d9d9"/>
<rect x="639.00" y="304.00" width="1.00" height="3.00" fill="#d9d9d9"/>
<rect x="639.00" y="359.00" width="1.00" height="3.00" fill="#d9d9d9"/>
<rect x="687.00" y="304.00" width="1.00" height="3.00" fill="#d9d9d9"/>
<rect x="687.00" y="359.00" width="1.00" height="3.00" fill="#d9d9d9"/>
<rect x="736.00" y="304.00" width="1.00" height="3.00" fill="#d9d9d9"/>
<rect x="736.00" y="359.00" width="1.00" height="3.00" fill="#d9d9d9"/>
<rect x="785.00" y="304.00" width="1.00" height="3.00" fill="#d9d9d9"/>
<rect x="785.00" y="359.00" width="1.00" height="3.00" fill="#d9d9d9"/>
<rect x="833.00" y="304.00" width="1.00" height="3.00" fill="#d9d9d9"/>
<rect x="833.00" y="359.00" width="1.00" height="3.00" fill="#d9d9d9"/>
<rect x="882.00" y="304.00" width="1.00" height="3.00" fill="#d9d9d9"/>
<rect x="882.00" y="359.00" width="1.00" height="3.00" fill="#d9d9d9"/>
<rect x="930.00" y="304.00" width="1.00" height="3.00" fill="#d9d9d9"/>
<rect x="930.00" y="359.00" width="1.00" height="3.00" fill="#d9d9d9"/>
<rect x="979.00" y="304.00" width="1.00" height="3.00" fill="#d9d9d9"/>
<rect x="979.00" y="359.00" width="1.00" height="3.00" fill="#d9d9d9"/>
<rect x="33.00" y="333.00" width="6.00" height="1.00" fill="#d9d9d9"/>
<rect x="997.00" y="333.00" width="6.00" height="1.00" fill="#d9d9d9"/>
<rect x="33.00" y="318.00" width="3.00" height="1.00" fill="#d9d9d9"/>
<rect x="1000.00" y="318.00" width="3.00" height="1.00" fill="#d9d9d9"/>
<rect x="33.00" y="347.00" width="3.00" height="1.00" fill="#d9d9d9"/>
<rect x="1000.00" y="347.00" width="3.00" height="1.00" fill="#d9d9d9"/>
<rect x="32.00" y="303.00" width="972.00" height="1.00" fill="#d9d9d9"/>
<rect x="32.00" y="362.00" width="972.00" height="1.00" fill="#d9d9d9"/>
<rect x="32.00" y="303.00" width="1.00" height="60.00" fill="#d9d9d9"/>
<rect x="1003.00" y="303.00" width="1.00" height="60.00" fill="#d9d9d9"/>
<rect x="33" y="333" width="970" height="1" fill="#cf9b17"/>
<rect x="28.30" y="328.50" width="7" height="7" fill="none" stroke="#d9a319" stroke-width="0.95"/>
<rect x="38.01" y="328.50" width="7" height="7" fill="none" stroke="#d9a319" stroke-width="0.95"/>
<rect x="47.72" y="328.50" width="7" height="7" fill="none" stroke="#d9a319" stroke-width="0.95"/>
<rect x="57.43" y="328.50" width="7" height="7" fill="none" stroke="#d9a319" stroke-width="0.95"/>
<rect x="67.14" y="328.50" width="7" height="7" fill="none" stroke="#d9a319" stroke-width="0.95"/>
<rect x="76.85" y="328.50" width="7" height="7" fill="none" stroke="#d9a319" stroke-width="0.95"/>
<rect x="86.56" y="328.50" width="7" height="7" fill="none" stroke="#d9a319" stroke-width="0.95"/>
<rect x="96.27" y="328.50" width="7" height="7" fill="none" stroke="#d9a319" stroke-width="0.95"/>
<rect x="105.98" y="328.50" width="7" height="7" fill="none" stroke="#d9a319" stroke-width="0.95"/>
<rect x="115.69" y="328.50" width="7" height="7" fill="none" stroke="#d9a319" stroke-width="0.95"/>
<rect x="125.40" y="328.50" width="7" height="7" fill="none" stroke="#d9a319" stroke-width="0.95"/>
<rect x="135.11" y="328.50" width="7" height="7" fill="none" stroke="#d9a319" stroke-width="0.95"/>
<rect x="144.82" y="328.50" width="7" height="7" fill="none" stroke="#d9a319" stroke-width="0.95"/>
<rect x="154.53" y="328.50" width="7" height="7" fill="none" stroke="#d9a319" stroke-width="0.95"/>
<rect x="164.24" y="328.50" width="7" height="7" fill="none" stroke="#d9a319" stroke-width="0.95"/>
<rect x="173.95" y="328.50" width="7" height="7" fill="none" stroke="#d9a319" stroke-width="0.95"/>
<rect x="183.66" y="328.50" width="7" height="7" fill="none" stroke="#d9a319" stroke-width="0.95"/>
<rect x="193.37" y="328.50" width="7" height="7" fill="none" stroke="#d9a319" stroke-width="0.95"/>
<rect x="203.08" y="328.50" width="7" height="7" fill="none" stroke="#d9a319" stroke-width="0.95"/>
<rect x="212.79" y="328.50" width="7" height="7" fill="none" stroke="#d9a319" stroke-width="0.95"/>
<rect x="222.50" y="328.50" width="7" height="7" fill="none" stroke="#d9a319" stroke-width="0.95"/>
<rect x="232.21" y="328.50" width="7" height="7" fill="none" stroke="#d9a319" stroke-width="0.95"/>
<rect x="241.92" y="328.50" width="7" height="7" fill="none" stroke="#d9a319" stroke-width="0.95"/>
<rect x="251.63" y="328.50" width="7" height="7" fill="none" stroke="#d9a319" stroke-width="0.95"/>
<rect x="261.34" y="328.50" width="7" height="7" fill="none" stroke="#d9a319" stroke-width="0.95"/>
<rect x="271.05" y="328.50" width="7" height="7" fill="none" stroke="#d9a319" stroke-width="0.95"/>
<rect x="280.76" y="328.50" width="7" height="7" fill="none" stroke="#d9a319" stroke-width="0.95"/>
<rect x="290.47" y="328.50" width="7" height="7" fill="none" stroke="#d9a319" stroke-width="0.95"/>
<rect x="300.18" y="328.50" width="7" height="7" fill="none" stroke="#d9a319" stroke-width="0.95"/>
<rect x="309.89" y="328.50" width="7" height="7" fill="none" stroke="#d9a319" stroke-width="0.95"/>
<rect x="319.60" y="328.50" width="7" height="7" fill="none" stroke="#d9a319" stroke-width="0.95"/>
<rect x="329.31" y="328.50" width="7" height="7" fill="none" stroke="#d9a319" stroke-width="0.95"/>
<rect x="339.02" y="328.50" width="7" height="7" fill="none" stroke="#d9a319" stroke-width="0.95"/>
<rect x="348.73" y="328.50" width="7" height="7" fill="none" stroke="#d9a319" stroke-width="0.95"/>
<rect x="358.44" y="328.50" width="7" height="7" fill="none" stroke="#d9a319" stroke-width="0.95"/>
<rect x="368.15" y="328.50" width="7" height="7" fill="none" stroke="#d9a319" stroke-width="0.95"/>
<rect x="377.86" y="328.50" width="7" height="7" fill="none" stroke="#d9a319" stroke-width="0.95"/>
<rect x="387.57" y="328.50" width="7" height="7" fill="none" stroke="#d9a319" stroke-width="0.95"/>
<rect x="397.28" y="328.50" width="7" height="7" fill="none" stroke="#d9a319" stroke-width="0.95"/>
<rect x="406.99" y="328.50" width="7" height="7" fill="none" stroke="#d9a319" stroke-width="0.95"/>
<rect x="416.70" y="328.50" width="7" height="7" fill="none" stroke="#d9a319" stroke-width="0.95"/>
<rect x="426.41" y="328.50" width="7" height="7" fill="none" stroke="#d9a319" stroke-width="0.95"/>
<rect x="436.12" y="328.50" width="7" height="7" fill="none" stroke="#d9a319" stroke-width="0.95"/>
<rect x="445.83" y="328.50" width="7" height="7" fill="none" stroke="#d9a319" stroke-width="0.95"/>
<rect x="455.54" y="328.50" width="7" height="7" fill="none" stroke="#d9a319" stroke-width="0.95"/>
<rect x="465.25" y="328.50" width="7" height="7" fill="none" stroke="#d9a319" stroke-width="0.95"/>
<rect x="474.96" y="328.50" width="7" height="7" fill="none" stroke="#d9a319" stroke-width="0.95"/>
<rect x="484.67" y="328.50" width="7" height="7" fill="none" stroke="#d9a319" stroke-width="0.95"/>
<rect x="494.38" y="328.50" width="7" height="7" fill="none" stroke="#d9a319" stroke-width="0.95"/>
<rect x="504.09" y="328.50" width="7" height="7" fill="none" stroke="#d9a319" stroke-width="0.95"/>
<rect x="513.80" y="328.50" width="7" height="7" fill="none" stroke="#d9a319" stroke-width="0.95"/>
<rect x="523.51" y="328.50" width="7" height="7" fill="none" stroke="#d9a319" stroke-width="0.95"/>
<rect x="533.22" y="328.50" width="7" height="7" fill="none" stroke="#d9a319" stroke-width="0.95"/>
<rect x="542.93" y="328.50" width="7" height="7" fill="none" stroke="#d9a319" stroke-width="0.95"/>
<rect x="552.64" y="328.50" width="7" height="7" fill="none" stroke="#d9a319" stroke-width="0.95"/>
<rect x="562.35" y="328.50" width="7" height="7" fill="none" stroke="#d9a319" stroke-width="0.95"/>
<rect x="572.06" y="328.50" width="7" height="7" fill="none" stroke="#d9a319" stroke-width="0.95"/>
<rect x="581.77" y="328.50" width="7" height="7" fill="none" stroke="#d9a319" stroke-width="0.95"/>
<rect x="591.48" y="328.50" width="7" height="7" fill="none" stroke="#d9a319" stroke-width="0.95"/>
<rect x="601.19" y="328.50" width="7" height="7" fill="none" stroke="#d9a319" stroke-width="0.95"/>
<rect x="610.90" y="328.50" width="7" height="7" fill="none" stroke="#d9a319" stroke-width="0.95"/>
<rect x="620.61" y="328.50" width="7" height="7" fill="none" stroke="#d9a319" stroke-width="0.95"/>
<rect x="630.32" y="328.50" width="7" height="7" fill="none" stroke="#d9a319" stroke-width="0.95"/>
<rect x="640.03" y="328.50" width="7" height="7" fill="none" stroke="#d9a319" stroke-width="0.95"/>
<rect x="649.74" y="328.50" width="7" height="7" fill="none" stroke="#d9a319" stroke-width="0.95"/>
<rect x="659.45" y="328.50" width="7" height="7" fill="none" stroke="#d9a319" stroke-width="0.95"/>
<rect x="669.16" y="328.50" width="7" height="7" fill="none" stroke="#d9a319" stroke-width="0.95"/>
<rect x="678.87" y="328.50" width="7" height="7" fill="none" stroke="#d9a319" stroke-width="0.95"/>
<rect x="688.58" y="328.50" width="7" height="7" fill="none" stroke="#d9a319" stroke-width="0.95"/>
<rect x="698.29" y="328.50" width="7" height="7" fill="none" stroke="#d9a319" stroke-width="0.95"/>
<rect x="708.00" y="328.50" width="7" height="7" fill="none" stroke="#d9a319" stroke-width="0.95"/>
<rect x="717.71" y="328.50" width="7" height="7" fill="none" stroke="#d9a319" stroke-width="0.95"/>
<rect x="727.42" y="328.50" width="7" height="7" fill="none" stroke="#d9a319" stroke-width="0.95"/>
<rect x="737.13" y="328.50" width="7" height="7" fill="none" stroke="#d9a319" stroke-width="0.95"/>
<rect x="746.84" y="328.50" width="7" height="7" fill="none" stroke="#d9a319" stroke-width="0.95"/>
<rect x="756.55" y="328.50" width="7" height="7" fill="none" stroke="#d9a319" stroke-width="0.95"/>
<rect x="766.26" y="328.50" width="7" height="7" fill="none" stroke="#d9a319" stroke-width="0.95"/>
<rect x="775.97" y="328.50" width="7" height="7" fill="none" stroke="#d9a319" stroke-width="0.95"/>
<rect x="785.68" y="328.50" width="7" height="7" fill="none" stroke="#d9a319" stroke-width="0.95"/>
<rect x="795.39" y="328.50" width="7" height="7" fill="none" stroke="#d9a319" stroke-width="0.95"/>
<rect x="805.10" y="328.50" width="7" height="7" fill="none" stroke="#d9a319" stroke-width="0.95"/>
<rect x="814.81" y="328.50" width="7" height="7" fill="none" stroke="#d9a319" stroke-width="0.95"/>
<rect x="824.52" y="328.50" width="7" height="7" fill="none" stroke="#d9a319" stroke-width="0.95"/>
<rect x="834.23" y="328.50" width="7" height="7" fill="none" stroke="#d9a319" stroke-width="0.95"/>
<rect x="843.94" y="328.50" width="7" height="7" fill="none" stroke="#d9a319" stroke-width="0.95"/>
<rect x="853.65" y="328.50" width="7" height="7" fill="none" stroke="#d9a319" stroke-width="0.95"/>
<rect x="863.36" y="328.50" width="7" height="7" fill="none" stroke="#d9a319" stroke-width="0.95"/>
<rect x="873.07" y="328.50" width="7" height="7" fill="none" stroke="#d9a319" stroke-width="0.95"/>
<rect x="882.78" y="328.50" width="7" height="7" fill="none" stroke="#d9a319" stroke-width="0.95"/>
<rect x="892.49" y="328.50" width="7" height="7" fill="none" stroke="#d9a319" stroke-width="0.95"/>
<rect x="902.20" y="328.50" width="7" height="7" fill="none" stroke="#d9a319" stroke-width="0.95"/>
<rect x="911.91" y="328.50" width="7" height="7" fill="none" stroke="#d9a319" stroke-width="0.95"/>
<rect x="921.62" y="328.50" width="7" height="7" fill="none" stroke="#d9a319" stroke-width="0.95"/>
<rect x="931.33" y="328.50" width="7" height="7" fill="none" stroke="#d9a319" stroke-width="0.95"/>
<rect x="941.04" y="328.50" width="7" height="7" fill="none" stroke="#d9a319" stroke-width="0.95"/>
<rect x="950.75" y="328.50" width="7" height="7" fill="none" stroke="#d9a319" stroke-width="0.95"/>
<rect x="960.46" y="328.50" width="7" height="7" fill="none" stroke="#d9a319" stroke-width="0.95"/>
<rect x="970.17" y="328.50" width="7" height="7" fill="none" stroke="#d9a319" stroke-width="0.95"/>
<rect x="979.88" y="328.50" width="7" height="7" fill="none" stroke="#d9a319" stroke-width="0.95"/>
<rect x="989.59" y="328.50" width="7" height="7" fill="none" stroke="#d9a319" stroke-width="0.95"/>
<rect x="999.30" y="328.50" width="7" height="7" fill="none" stroke="#d9a319" stroke-width="0.95"/>
<text class="tk" x="27" y="307.2" text-anchor="end">1</text>
<text class="tk" x="27" y="337.2" text-anchor="end">0</text>
<text class="tk" x="27" y="366.2" text-anchor="end">-1</text>
<text class="tt" x="517.6" y="297.8" text-anchor="middle">SensorFault</text>
<rect x="32" y="418" width="972" height="43" fill="#121212"/>
<rect x="33.00" y="439.00" width="970.00" height="1.00" fill="#3e3e3e"/>
<rect x="81.00" y="419.00" width="1.00" height="41.00" fill="#3e3e3e"/>
<rect x="129.00" y="419.00" width="1.00" height="41.00" fill="#3e3e3e"/>
<rect x="178.00" y="419.00" width="1.00" height="41.00" fill="#3e3e3e"/>
<rect x="226.00" y="419.00" width="1.00" height="41.00" fill="#3e3e3e"/>
<rect x="275.00" y="419.00" width="1.00" height="41.00" fill="#3e3e3e"/>
<rect x="323.00" y="419.00" width="1.00" height="41.00" fill="#3e3e3e"/>
<rect x="372.00" y="419.00" width="1.00" height="41.00" fill="#3e3e3e"/>
<rect x="420.00" y="419.00" width="1.00" height="41.00" fill="#3e3e3e"/>
<rect x="469.00" y="419.00" width="1.00" height="41.00" fill="#3e3e3e"/>
<rect x="518.00" y="419.00" width="1.00" height="41.00" fill="#3e3e3e"/>
<rect x="566.00" y="419.00" width="1.00" height="41.00" fill="#3e3e3e"/>
<rect x="615.00" y="419.00" width="1.00" height="41.00" fill="#3e3e3e"/>
<rect x="663.00" y="419.00" width="1.00" height="41.00" fill="#3e3e3e"/>
<rect x="712.00" y="419.00" width="1.00" height="41.00" fill="#3e3e3e"/>
<rect x="760.00" y="419.00" width="1.00" height="41.00" fill="#3e3e3e"/>
<rect x="809.00" y="419.00" width="1.00" height="41.00" fill="#3e3e3e"/>
<rect x="857.00" y="419.00" width="1.00" height="41.00" fill="#3e3e3e"/>
<rect x="906.00" y="419.00" width="1.00" height="41.00" fill="#3e3e3e"/>
<rect x="954.00" y="419.00" width="1.00" height="41.00" fill="#3e3e3e"/>
<rect x="81.00" y="419.00" width="1.00" height="6.00" fill="#d9d9d9"/>
<rect x="81.00" y="454.00" width="1.00" height="6.00" fill="#d9d9d9"/>
<rect x="129.00" y="419.00" width="1.00" height="6.00" fill="#d9d9d9"/>
<rect x="129.00" y="454.00" width="1.00" height="6.00" fill="#d9d9d9"/>
<rect x="178.00" y="419.00" width="1.00" height="6.00" fill="#d9d9d9"/>
<rect x="178.00" y="454.00" width="1.00" height="6.00" fill="#d9d9d9"/>
<rect x="226.00" y="419.00" width="1.00" height="6.00" fill="#d9d9d9"/>
<rect x="226.00" y="454.00" width="1.00" height="6.00" fill="#d9d9d9"/>
<rect x="275.00" y="419.00" width="1.00" height="6.00" fill="#d9d9d9"/>
<rect x="275.00" y="454.00" width="1.00" height="6.00" fill="#d9d9d9"/>
<rect x="323.00" y="419.00" width="1.00" height="6.00" fill="#d9d9d9"/>
<rect x="323.00" y="454.00" width="1.00" height="6.00" fill="#d9d9d9"/>
<rect x="372.00" y="419.00" width="1.00" height="6.00" fill="#d9d9d9"/>
<rect x="372.00" y="454.00" width="1.00" height="6.00" fill="#d9d9d9"/>
<rect x="420.00" y="419.00" width="1.00" height="6.00" fill="#d9d9d9"/>
<rect x="420.00" y="454.00" width="1.00" height="6.00" fill="#d9d9d9"/>
<rect x="469.00" y="419.00" width="1.00" height="6.00" fill="#d9d9d9"/>
<rect x="469.00" y="454.00" width="1.00" height="6.00" fill="#d9d9d9"/>
<rect x="518.00" y="419.00" width="1.00" height="6.00" fill="#d9d9d9"/>
<rect x="518.00" y="454.00" width="1.00" height="6.00" fill="#d9d9d9"/>
<rect x="566.00" y="419.00" width="1.00" height="6.00" fill="#d9d9d9"/>
<rect x="566.00" y="454.00" width="1.00" height="6.00" fill="#d9d9d9"/>
<rect x="615.00" y="419.00" width="1.00" height="6.00" fill="#d9d9d9"/>
<rect x="615.00" y="454.00" width="1.00" height="6.00" fill="#d9d9d9"/>
<rect x="663.00" y="419.00" width="1.00" height="6.00" fill="#d9d9d9"/>
<rect x="663.00" y="454.00" width="1.00" height="6.00" fill="#d9d9d9"/>
<rect x="712.00" y="419.00" width="1.00" height="6.00" fill="#d9d9d9"/>
<rect x="712.00" y="454.00" width="1.00" height="6.00" fill="#d9d9d9"/>
<rect x="760.00" y="419.00" width="1.00" height="6.00" fill="#d9d9d9"/>
<rect x="760.00" y="454.00" width="1.00" height="6.00" fill="#d9d9d9"/>
<rect x="809.00" y="419.00" width="1.00" height="6.00" fill="#d9d9d9"/>
<rect x="809.00" y="454.00" width="1.00" height="6.00" fill="#d9d9d9"/>
<rect x="857.00" y="419.00" width="1.00" height="6.00" fill="#d9d9d9"/>
<rect x="857.00" y="454.00" width="1.00" height="6.00" fill="#d9d9d9"/>
<rect x="906.00" y="419.00" width="1.00" height="6.00" fill="#d9d9d9"/>
<rect x="906.00" y="454.00" width="1.00" height="6.00" fill="#d9d9d9"/>
<rect x="954.00" y="419.00" width="1.00" height="6.00" fill="#d9d9d9"/>
<rect x="954.00" y="454.00" width="1.00" height="6.00" fill="#d9d9d9"/>
<rect x="56.00" y="419.00" width="1.00" height="3.00" fill="#d9d9d9"/>
<rect x="56.00" y="457.00" width="1.00" height="3.00" fill="#d9d9d9"/>
<rect x="105.00" y="419.00" width="1.00" height="3.00" fill="#d9d9d9"/>
<rect x="105.00" y="457.00" width="1.00" height="3.00" fill="#d9d9d9"/>
<rect x="153.00" y="419.00" width="1.00" height="3.00" fill="#d9d9d9"/>
<rect x="153.00" y="457.00" width="1.00" height="3.00" fill="#d9d9d9"/>
<rect x="202.00" y="419.00" width="1.00" height="3.00" fill="#d9d9d9"/>
<rect x="202.00" y="457.00" width="1.00" height="3.00" fill="#d9d9d9"/>
<rect x="250.00" y="419.00" width="1.00" height="3.00" fill="#d9d9d9"/>
<rect x="250.00" y="457.00" width="1.00" height="3.00" fill="#d9d9d9"/>
<rect x="299.00" y="419.00" width="1.00" height="3.00" fill="#d9d9d9"/>
<rect x="299.00" y="457.00" width="1.00" height="3.00" fill="#d9d9d9"/>
<rect x="348.00" y="419.00" width="1.00" height="3.00" fill="#d9d9d9"/>
<rect x="348.00" y="457.00" width="1.00" height="3.00" fill="#d9d9d9"/>
<rect x="396.00" y="419.00" width="1.00" height="3.00" fill="#d9d9d9"/>
<rect x="396.00" y="457.00" width="1.00" height="3.00" fill="#d9d9d9"/>
<rect x="445.00" y="419.00" width="1.00" height="3.00" fill="#d9d9d9"/>
<rect x="445.00" y="457.00" width="1.00" height="3.00" fill="#d9d9d9"/>
<rect x="493.00" y="419.00" width="1.00" height="3.00" fill="#d9d9d9"/>
<rect x="493.00" y="457.00" width="1.00" height="3.00" fill="#d9d9d9"/>
<rect x="542.00" y="419.00" width="1.00" height="3.00" fill="#d9d9d9"/>
<rect x="542.00" y="457.00" width="1.00" height="3.00" fill="#d9d9d9"/>
<rect x="590.00" y="419.00" width="1.00" height="3.00" fill="#d9d9d9"/>
<rect x="590.00" y="457.00" width="1.00" height="3.00" fill="#d9d9d9"/>
<rect x="639.00" y="419.00" width="1.00" height="3.00" fill="#d9d9d9"/>
<rect x="639.00" y="457.00" width="1.00" height="3.00" fill="#d9d9d9"/>
<rect x="687.00" y="419.00" width="1.00" height="3.00" fill="#d9d9d9"/>
<rect x="687.00" y="457.00" width="1.00" height="3.00" fill="#d9d9d9"/>
<rect x="736.00" y="419.00" width="1.00" height="3.00" fill="#d9d9d9"/>
<rect x="736.00" y="457.00" width="1.00" height="3.00" fill="#d9d9d9"/>
<rect x="785.00" y="419.00" width="1.00" height="3.00" fill="#d9d9d9"/>
<rect x="785.00" y="457.00" width="1.00" height="3.00" fill="#d9d9d9"/>
<rect x="833.00" y="419.00" width="1.00" height="3.00" fill="#d9d9d9"/>
<rect x="833.00" y="457.00" width="1.00" height="3.00" fill="#d9d9d9"/>
<rect x="882.00" y="419.00" width="1.00" height="3.00" fill="#d9d9d9"/>
<rect x="882.00" y="457.00" width="1.00" height="3.00" fill="#d9d9d9"/>
<rect x="930.00" y="419.00" width="1.00" height="3.00" fill="#d9d9d9"/>
<rect x="930.00" y="457.00" width="1.00" height="3.00" fill="#d9d9d9"/>
<rect x="979.00" y="419.00" width="1.00" height="3.00" fill="#d9d9d9"/>
<rect x="979.00" y="457.00" width="1.00" height="3.00" fill="#d9d9d9"/>
<rect x="33.00" y="439.00" width="6.00" height="1.00" fill="#d9d9d9"/>
<rect x="997.00" y="439.00" width="6.00" height="1.00" fill="#d9d9d9"/>
<rect x="32.00" y="418.00" width="972.00" height="1.00" fill="#d9d9d9"/>
<rect x="32.00" y="460.00" width="972.00" height="1.00" fill="#d9d9d9"/>
<rect x="32.00" y="418.00" width="1.00" height="43.00" fill="#d9d9d9"/>
<rect x="1003.00" y="418.00" width="1.00" height="43.00" fill="#d9d9d9"/>
<rect x="33" y="438" width="970" height="1" fill="#0a0a5c"/><rect x="33" y="439" width="970" height="1" fill="#2727a2"/><rect x="33" y="439" width="6" height="1" fill="#8585f0"/><rect x="997" y="439" width="6" height="1" fill="#8585f0"/><rect x="41.21" y="438.6" width="1.2" height="1.2" fill="#1616d6"/><rect x="50.92" y="438.6" width="1.2" height="1.2" fill="#1616d6"/><rect x="60.63" y="438.6" width="1.2" height="1.2" fill="#1616d6"/><rect x="70.34" y="438.6" width="1.2" height="1.2" fill="#1616d6"/><rect x="80.05" y="438.6" width="1.2" height="1.2" fill="#1616d6"/><rect x="89.76" y="438.6" width="1.2" height="1.2" fill="#1616d6"/><rect x="99.47" y="438.6" width="1.2" height="1.2" fill="#1616d6"/><rect x="109.18" y="438.6" width="1.2" height="1.2" fill="#1616d6"/><rect x="118.89" y="438.6" width="1.2" height="1.2" fill="#1616d6"/><rect x="128.60" y="438.6" width="1.2" height="1.2" fill="#1616d6"/><rect x="138.31" y="438.6" width="1.2" height="1.2" fill="#1616d6"/><rect x="148.02" y="438.6" width="1.2" height="1.2" fill="#1616d6"/><rect x="157.73" y="438.6" width="1.2" height="1.2" fill="#1616d6"/><rect x="167.44" y="438.6" width="1.2" height="1.2" fill="#1616d6"/><rect x="177.15" y="438.6" width="1.2" height="1.2" fill="#1616d6"/><rect x="186.86" y="438.6" width="1.2" height="1.2" fill="#1616d6"/><rect x="196.57" y="438.6" width="1.2" height="1.2" fill="#1616d6"/><rect x="206.28" y="438.6" width="1.2" height="1.2" fill="#1616d6"/><rect x="215.99" y="438.6" width="1.2" height="1.2" fill="#1616d6"/><rect x="225.70" y="438.6" width="1.2" height="1.2" fill="#1616d6"/><rect x="235.41" y="438.6" width="1.2" height="1.2" fill="#1616d6"/><rect x="245.12" y="438.6" width="1.2" height="1.2" fill="#1616d6"/><rect x="254.83" y="438.6" width="1.2" height="1.2" fill="#1616d6"/><rect x="264.54" y="438.6" width="1.2" height="1.2" fill="#1616d6"/><rect x="274.25" y="438.6" width="1.2" height="1.2" fill="#1616d6"/><rect x="283.96" y="438.6" width="1.2" height="1.2" fill="#1616d6"/><rect x="293.67" y="438.6" width="1.2" height="1.2" fill="#1616d6"/><rect x="303.38" y="438.6" width="1.2" height="1.2" fill="#1616d6"/><rect x="313.09" y="438.6" width="1.2" height="1.2" fill="#1616d6"/><rect x="322.80" y="438.6" width="1.2" height="1.2" fill="#1616d6"/><rect x="332.51" y="438.6" width="1.2" height="1.2" fill="#1616d6"/><rect x="342.22" y="438.6" width="1.2" height="1.2" fill="#1616d6"/><rect x="351.93" y="438.6" width="1.2" height="1.2" fill="#1616d6"/><rect x="361.64" y="438.6" width="1.2" height="1.2" fill="#1616d6"/><rect x="371.35" y="438.6" width="1.2" height="1.2" fill="#1616d6"/><rect x="381.06" y="438.6" width="1.2" height="1.2" fill="#1616d6"/><rect x="390.77" y="438.6" width="1.2" height="1.2" fill="#1616d6"/><rect x="400.48" y="438.6" width="1.2" height="1.2" fill="#1616d6"/><rect x="410.19" y="438.6" width="1.2" height="1.2" fill="#1616d6"/><rect x="419.90" y="438.6" width="1.2" height="1.2" fill="#1616d6"/><rect x="429.61" y="438.6" width="1.2" height="1.2" fill="#1616d6"/><rect x="439.32" y="438.6" width="1.2" height="1.2" fill="#1616d6"/><rect x="449.03" y="438.6" width="1.2" height="1.2" fill="#1616d6"/><rect x="458.74" y="438.6" width="1.2" height="1.2" fill="#1616d6"/><rect x="468.45" y="438.6" width="1.2" height="1.2" fill="#1616d6"/><rect x="478.16" y="438.6" width="1.2" height="1.2" fill="#1616d6"/><rect x="487.87" y="438.6" width="1.2" height="1.2" fill="#1616d6"/><rect x="497.58" y="438.6" width="1.2" height="1.2" fill="#1616d6"/><rect x="507.29" y="438.6" width="1.2" height="1.2" fill="#1616d6"/><rect x="517.00" y="438.6" width="1.2" height="1.2" fill="#1616d6"/><rect x="526.71" y="438.6" width="1.2" height="1.2" fill="#1616d6"/><rect x="536.42" y="438.6" width="1.2" height="1.2" fill="#1616d6"/><rect x="546.13" y="438.6" width="1.2" height="1.2" fill="#1616d6"/><rect x="555.84" y="438.6" width="1.2" height="1.2" fill="#1616d6"/><rect x="565.55" y="438.6" width="1.2" height="1.2" fill="#1616d6"/><rect x="575.26" y="438.6" width="1.2" height="1.2" fill="#1616d6"/><rect x="584.97" y="438.6" width="1.2" height="1.2" fill="#1616d6"/><rect x="594.68" y="438.6" width="1.2" height="1.2" fill="#1616d6"/><rect x="604.39" y="438.6" width="1.2" height="1.2" fill="#1616d6"/><rect x="614.10" y="438.6" width="1.2" height="1.2" fill="#1616d6"/><rect x="623.81" y="438.6" width="1.2" height="1.2" fill="#1616d6"/><rect x="633.52" y="438.6" width="1.2" height="1.2" fill="#1616d6"/><rect x="643.23" y="438.6" width="1.2" height="1.2" fill="#1616d6"/><rect x="652.94" y="438.6" width="1.2" height="1.2" fill="#1616d6"/><rect x="662.65" y="438.6" width="1.2" height="1.2" fill="#1616d6"/><rect x="672.36" y="438.6" width="1.2" height="1.2" fill="#1616d6"/><rect x="682.07" y="438.6" width="1.2" height="1.2" fill="#1616d6"/><rect x="691.78" y="438.6" width="1.2" height="1.2" fill="#1616d6"/><rect x="701.49" y="438.6" width="1.2" height="1.2" fill="#1616d6"/><rect x="711.20" y="438.6" width="1.2" height="1.2" fill="#1616d6"/><rect x="720.91" y="438.6" width="1.2" height="1.2" fill="#1616d6"/><rect x="730.62" y="438.6" width="1.2" height="1.2" fill="#1616d6"/><rect x="740.33" y="438.6" width="1.2" height="1.2" fill="#1616d6"/><rect x="750.04" y="438.6" width="1.2" height="1.2" fill="#1616d6"/><rect x="759.75" y="438.6" width="1.2" height="1.2" fill="#1616d6"/><rect x="769.46" y="438.6" width="1.2" height="1.2" fill="#1616d6"/><rect x="779.17" y="438.6" width="1.2" height="1.2" fill="#1616d6"/><rect x="788.88" y="438.6" width="1.2" height="1.2" fill="#1616d6"/><rect x="798.59" y="438.6" width="1.2" height="1.2" fill="#1616d6"/><rect x="808.30" y="438.6" width="1.2" height="1.2" fill="#1616d6"/><rect x="818.01" y="438.6" width="1.2" height="1.2" fill="#1616d6"/><rect x="827.72" y="438.6" width="1.2" height="1.2" fill="#1616d6"/><rect x="837.43" y="438.6" width="1.2" height="1.2" fill="#1616d6"/><rect x="847.14" y="438.6" width="1.2" height="1.2" fill="#1616d6"/><rect x="856.85" y="438.6" width="1.2" height="1.2" fill="#1616d6"/><rect x="866.56" y="438.6" width="1.2" height="1.2" fill="#1616d6"/><rect x="876.27" y="438.6" width="1.2" height="1.2" fill="#1616d6"/><rect x="885.98" y="438.6" width="1.2" height="1.2" fill="#1616d6"/><rect x="895.69" y="438.6" width="1.2" height="1.2" fill="#1616d6"/><rect x="905.40" y="438.6" width="1.2" height="1.2" fill="#1616d6"/><rect x="915.11" y="438.6" width="1.2" height="1.2" fill="#1616d6"/><rect x="924.82" y="438.6" width="1.2" height="1.2" fill="#1616d6"/><rect x="934.53" y="438.6" width="1.2" height="1.2" fill="#1616d6"/><rect x="944.24" y="438.6" width="1.2" height="1.2" fill="#1616d6"/><rect x="953.95" y="438.6" width="1.2" height="1.2" fill="#1616d6"/><rect x="963.66" y="438.6" width="1.2" height="1.2" fill="#1616d6"/><rect x="973.37" y="438.6" width="1.2" height="1.2" fill="#1616d6"/><rect x="983.08" y="438.6" width="1.2" height="1.2" fill="#1616d6"/><rect x="992.79" y="438.6" width="1.2" height="1.2" fill="#1616d6"/>
<text class="tk" x="27" y="422.2" text-anchor="end">1</text>
<text class="tk" x="27" y="443.2" text-anchor="end">0</text>
<text class="tk" x="27" y="464.2" text-anchor="end">-1</text>
<text class="tt" x="517.6" y="412.8" text-anchor="middle">SensorOutput</text>
<text class="tk" x="32.8" y="474" text-anchor="middle">0</text>
<text class="tk" x="81.3" y="474" text-anchor="middle">0.5</text>
<text class="tk" x="129.9" y="474" text-anchor="middle">1</text>
<text class="tk" x="178.5" y="474" text-anchor="middle">1.5</text>
<text class="tk" x="227.0" y="474" text-anchor="middle">2</text>
<text class="tk" x="275.6" y="474" text-anchor="middle">2.5</text>
<text class="tk" x="324.1" y="474" text-anchor="middle">3</text>
<text class="tk" x="372.7" y="474" text-anchor="middle">3.5</text>
<text class="tk" x="421.2" y="474" text-anchor="middle">4</text>
<text class="tk" x="469.8" y="474" text-anchor="middle">4.5</text>
<text class="tk" x="518.3" y="474" text-anchor="middle">5</text>
<text class="tk" x="566.8" y="474" text-anchor="middle">5.5</text>
<text class="tk" x="615.4" y="474" text-anchor="middle">6</text>
<text class="tk" x="663.9" y="474" text-anchor="middle">6.5</text>
<text class="tk" x="712.5" y="474" text-anchor="middle">7</text>
<text class="tk" x="761.0" y="474" text-anchor="middle">7.5</text>
<text class="tk" x="809.6" y="474" text-anchor="middle">8</text>
<text class="tk" x="858.1" y="474" text-anchor="middle">8.5</text>
<text class="tk" x="906.7" y="474" text-anchor="middle">9</text>
<text class="tk" x="955.2" y="474" text-anchor="middle">9.5</text>
<text class="tk" x="1003.8" y="474" text-anchor="middle">10</text>
<rect x="5" y="39" width="30" height="1" fill="#e08600"/>
<path d="M15.60 39.50H24.40M20.00 35.10V43.90M15.60 35.10L24.40 43.90M15.60 43.90L24.40 35.10" stroke="#e08600" stroke-width="1.45" fill="none"/>
<rect x="17.8" y="37.3" width="4.4" height="4.4" rx="1" fill="#e08600"/>
<text class="lg" x="37" y="42">LightCommand</text>
<path d="M5 159.5H15.5V150.5H25.5" fill="none" stroke="#00eaea" stroke-width="1"/>
<text class="lg" x="27" y="157">Driver</text>
<path d="M5 274.5H15.5V269.5H26" fill="none" stroke="#e6ab1a" stroke-width="1"/>
<rect x="10.6" y="264.6" width="8" height="8" fill="none" stroke="#efb31b" stroke-width="1.3"/>
<text class="lg" x="27" y="272" style="font-size:10.33px">SensorFault</text>
<rect x="5" y="384" width="30" height="1" fill="#1111c4"/>
<text class="lg" x="37" y="387">SensorOutput</text>
<text class="tab" x="36.8" y="19.1" textLength="32.6" lengthAdjust="spacingAndGlyphs">SCOPE</text>
<text class="tab" x="117.5" y="19.1" textLength="82.8" lengthAdjust="spacingAndGlyphs">MEASUREMENTS</text>
<path d="M838 3H1013V25H838L831 14Z" fill="#688fb2"/>
<path d="M855.5 6.6V17.6L848.3 12.3Z" fill="#bfe1ff" stroke="#222" stroke-width="1" stroke-linejoin="round"/>
<rect x="857.6" y="6.3" width="3.2" height="8" rx="1" fill="#bfe1ff" stroke="#222" stroke-width="1"/>
<path d="M857.67 12.41L857.81 10.96L859.39 10.96L859.53 12.41L860.62 12.87L861.75 11.93L862.87 13.05L861.93 14.18L862.39 15.27L863.84 15.41L863.84 16.99L862.39 17.13L861.93 18.22L862.87 19.35L861.75 20.47L860.62 19.53L859.53 19.99L859.39 21.44L857.81 21.44L857.67 19.99L856.58 19.53L855.45 20.47L854.33 19.35L855.27 18.22L854.81 17.13L853.36 16.99L853.36 15.41L854.81 15.27L855.27 14.18L854.33 13.05L855.45 11.93L856.58 12.87Z" fill="#dedede" stroke="#2a2a2a" stroke-width="0.9" stroke-linejoin="round"/>
<circle cx="858.6" cy="16.2" r="1.5" fill="#909090"/>
<circle cx="882.1" cy="14" r="7.4" fill="#c9fdc9" stroke="#0c800c" stroke-width="1.3"/>
<path d="M879.0 10.0V18.0L886.1 14Z" fill="#077d07"/>
<rect x="900.7" y="6.6" width="3.1" height="14.8" rx="1" fill="#c9fdc9" stroke="#0c800c" stroke-width="1.1"/>
<path d="M906.8 6.8V21.2L914.6 14Z" fill="#c9fdc9" stroke="#0c800c" stroke-width="1.1" stroke-linejoin="round"/>
<circle cx="933.9" cy="13.9" r="7.6" fill="none" stroke="#abc3da" stroke-width="1.35"/>
<rect x="930.9" y="10.9" width="6.2" height="6" fill="#b1c7dc"/>
<rect x="951" y="5" width="1" height="18" fill="#aaa49e"/>
<circle cx="968.4" cy="13.4" r="6.9" fill="#fff" stroke="#2b8ae0" stroke-width="1.1"/>
<text transform="translate(968.45 17.8) scale(0.8 1)" x="0" y="0" text-anchor="middle" style="font-size:12.5px;fill:#222;stroke:#222;stroke-width:0.5px">?</text>
<rect x="990.65" y="6.55" width="11.7" height="11.7" rx="0.6" fill="#606060" stroke="#fff" stroke-width="1.25"/>
<rect x="986.9" y="15.9" width="6.3" height="6.1" rx="0.6" fill="#fff"/>
<rect x="988.2" y="17.3" width="3.6" height="3.4" fill="#606060"/>
<path d="M993.2 16.1L996.9 12.4M993.9 12.2H997.1V15.4" fill="none" stroke="#fff" stroke-width="1.2"/>
<text class="st" x="7.5" y="506" style="font-size:11.8px">Ready</text>
<text class="st" x="950.2" y="506" text-anchor="end">Sample based</text>
<text class="st" x="1020" y="506" text-anchor="end">T=10.0000</text>
</svg>
</body></html>
